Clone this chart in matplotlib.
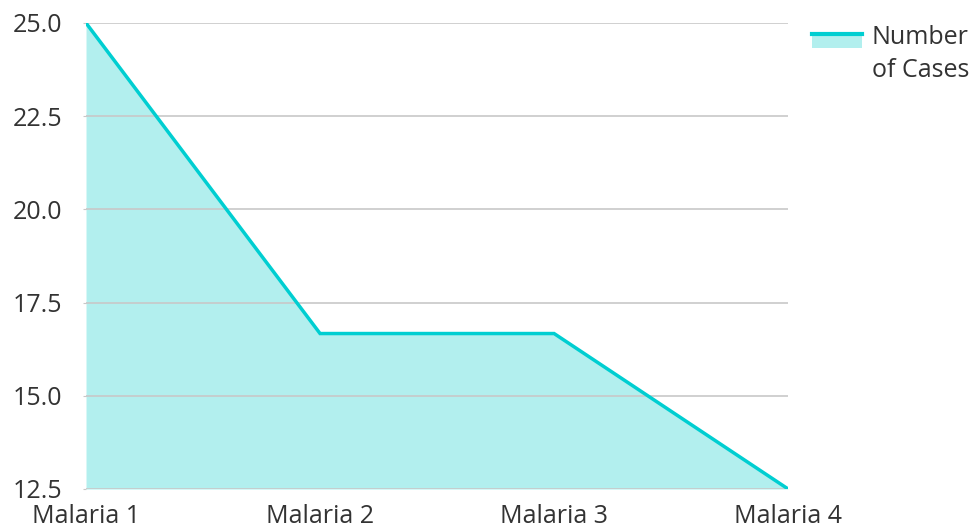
import matplotlib.pyplot as plt
from matplotlib.legend_handler import HandlerBase
from matplotlib.patches import Rectangle
from matplotlib.lines import Line2D

plt.rcParams['font.family'] = ['Open Sans', 'DejaVu Sans']

categories = ['Malaria 1', 'Malaria 2', 'Malaria 3', 'Malaria 4']
cases = [25.0, 16.67, 16.67, 12.5]
y_ticks = [12.5, 15.0, 17.5, 20.0, 22.5, 25.0]

line_color = '#00CED1'
fill_color = '#B2EFEE'
text_color = '#333333'


class AreaHandler(HandlerBase):
    # fill box with the line along its top edge, nudged up to sit by the first text line
    def create_artists(self, legend, orig_handle, xdescent, ydescent,
                       width, height, fontsize, trans):
        shift = 0.55 * fontsize
        box = Rectangle((-xdescent, -ydescent + shift), width, height,
                        facecolor=fill_color, edgecolor='none', transform=trans)
        top = Line2D([-xdescent, -xdescent + width], [-ydescent + height + shift] * 2,
                     color=line_color, linewidth=3, transform=trans)
        return [box, top]


fig = plt.figure(figsize=(9.73, 5.31), dpi=100)
ax = fig.add_axes([0.0884, 0.0791, 0.7216, 0.8776])

x = list(range(len(categories)))
ax.fill_between(x, cases, 12.5, color=fill_color, linewidth=0, zorder=1)
ax.plot(x, cases, color=line_color, linewidth=2.5, zorder=3, solid_joinstyle='miter')

ax.set_xlim(0, len(categories) - 1)
ax.set_ylim(12.5, 25.0)
ax.set_xticks(x)
ax.set_xticklabels(categories)
ax.set_yticks(y_ticks)
ax.set_yticklabels([f'{v:.1f}' for v in y_ticks])

ax.yaxis.grid(True, color='#c8c8c8', linewidth=1.2, zorder=2)
ax.set_axisbelow(False)
for sp in ax.spines.values():
    sp.set_visible(False)
ax.tick_params(axis='y', length=2, color='#c8c8c8', pad=15, labelsize=18, labelcolor=text_color)
ax.tick_params(axis='x', length=0, pad=11, labelsize=18, labelcolor=text_color)

handle = Rectangle((0, 0), 1, 1)
leg = fig.legend([handle], ['Number\nof Cases'], handler_map={Rectangle: AreaHandler()},
                 loc='upper left', bbox_to_anchor=(0.8345, 0.952), frameon=False,
                 borderpad=0, borderaxespad=0,
                 fontsize=18, handlelength=2.0, handleheight=0.5, handletextpad=0.4,
                 labelcolor=text_color)
leg.get_texts()[0].set_linespacing(1.4)

fig.savefig('out.png', dpi=100)
